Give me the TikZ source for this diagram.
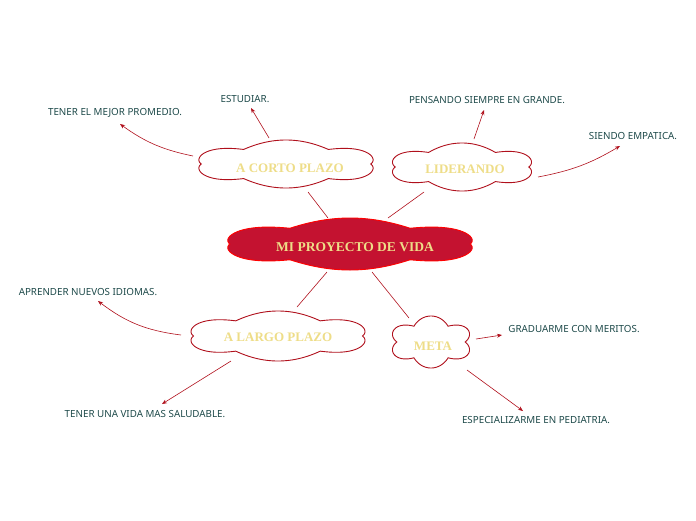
\documentclass[tikz,border=0pt]{standalone}
\usepackage{fontspec}
\setmainfont{Liberation Serif}
\newfontfamily\lblfont{Noto Sans}
\usetikzlibrary{arrows.meta}
\definecolor{dred}{HTML}{B0101C}
\definecolor{cred}{HTML}{C41230}
\definecolor{ytxt}{HTML}{EEDD88}
\definecolor{teal}{HTML}{1E4A4A}
\tikzset{
 cltxt/.style={text=ytxt, font=\bfseries\fontsize{13}{15}\selectfont, inner sep=0pt},
 cloudline/.style={draw=dred, line width=0.9pt, fill=white},
 lbl/.style={font=\lblfont\fontsize{9.8}{11}\selectfont, text=teal, inner sep=1pt},
 con/.style={draw=dred, line width=0.6pt},
 arr/.style={con, -{Stealth[length=5pt,width=4pt]}}
}
% \mycloud{style}{cx}{cy}{rx}{ry}{puffs}
\newcommand{\mycloud}[6]{%
 \draw[#1] plot[domain=0:360, samples=361, smooth]
  ({#2+(#4-0.3*#5+0.3*#5*abs(sin(#6*\x/2)))*cos(\x)},
   {#3+(#5-0.3*#5+0.3*#5*abs(sin(#6*\x/2)))*sin(\x)}) -- cycle;}
\begin{document}
\begin{tikzpicture}[x=1pt,y=-1pt]
\useasboundingbox (0,0) rectangle (696,520);
\mycloud{cloudline, fill=cred, draw=red}{350}{244}{128}{26}{6}
\mycloud{cloudline}{286}{164}{92}{24}{6}
\mycloud{cloudline}{462}{167}{74}{24}{6}
\mycloud{cloudline}{278}{336}{92}{25}{6}
\mycloud{cloudline}{431}{342}{42}{26}{6}

\node[cltxt, font=\bfseries\fontsize{13.5}{15}\selectfont] (c) at (355,247) {MI PROYECTO DE VIDA};
\node[cltxt] (acp) at (290,168) {A CORTO PLAZO};
\node[cltxt] (lid) at (465,169) {LIDERANDO};
\node[cltxt] (alp) at (278,337) {A LARGO PLAZO};
\node[cltxt] (meta) at (433,346) {META};

\node[lbl] (l1) at (115,113) {TENER EL MEJOR PROMEDIO.};
\node[lbl] (l2) at (245,99) {ESTUDIAR.};
\node[lbl] (l3) at (487,100) {PENSANDO SIEMPRE EN GRANDE.};
\node[lbl] (l4) at (633,136) {SIENDO EMPATICA.};
\node[lbl] (l5) at (88,292) {APRENDER NUEVOS IDIOMAS.};
\node[lbl] (l6) at (145,414) {TENER UNA VIDA MAS SALUDABLE.};
\node[lbl] (l7) at (574,329) {GRADUARME CON MERITOS.};
\node[lbl] (l8) at (536,420) {ESPECIALIZARME EN PEDIATRIA.};

\coordinate (a1) at (120,124); \coordinate (a2) at (251,108);
\coordinate (a3) at (484,110); \coordinate (a4) at (620,146);
\coordinate (a5) at (98,301); \coordinate (a6) at (162,404);
\coordinate (a7) at (502,335); \coordinate (a8) at (523,411);

\draw[con] (328,218) -- (308,192);
\draw[con] (388,218) -- (424,192);
\draw[con] (297,307) -- (327,272);
\draw[con] (409,318) -- (372,272);

\draw[arr] (193,156) to[bend left=12] (a1);
\draw[arr] (269,138) -- (a2);
\draw[arr] (474,139) -- (a3);
\draw[arr] (538,177) to[bend right=10] (a4);
\draw[arr] (181,335) to[bend left=15] (a5);
\draw[arr] (231,361) -- (a6);
\draw[arr] (476,339) -- (a7);
\draw[arr] (467,370) -- (a8);
\end{tikzpicture}
\end{document}
